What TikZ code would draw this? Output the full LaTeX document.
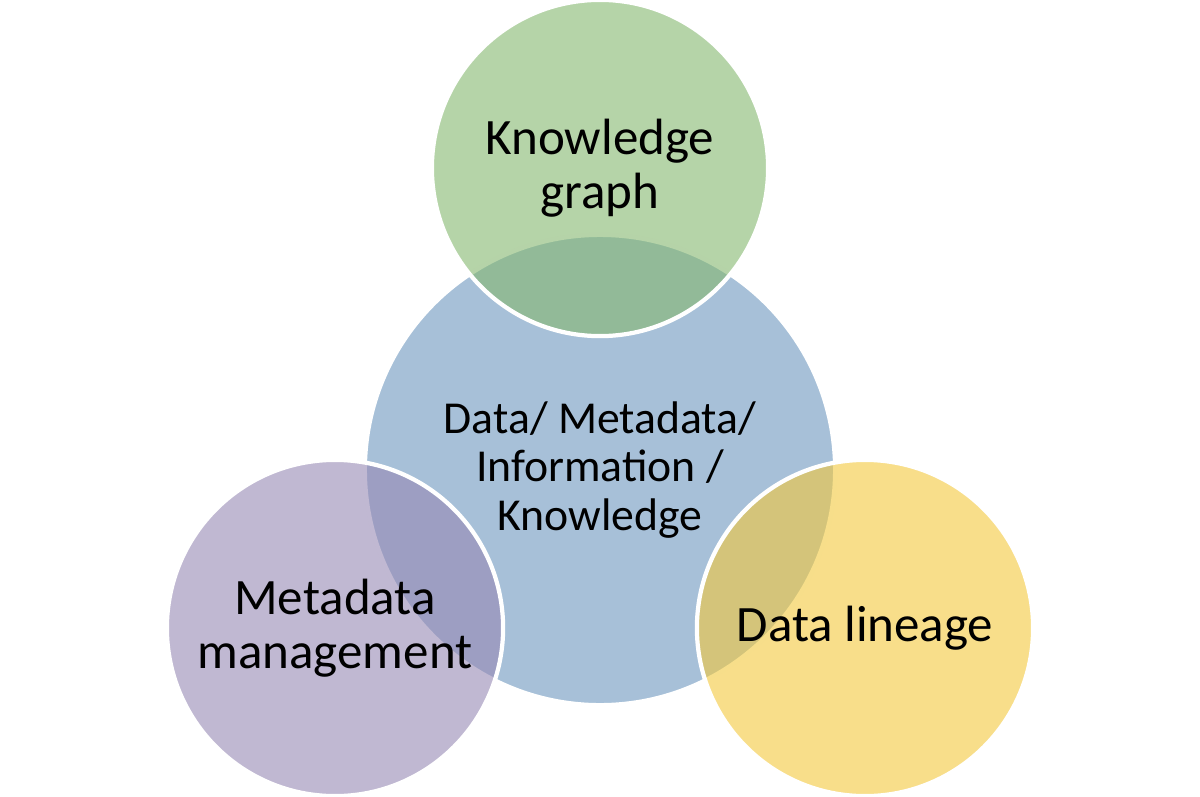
\documentclass[tikz,border=0pt]{standalone}
\usepackage{fontspec}
\setmainfont{Carlito}
\definecolor{kgreen}{HTML}{84B76E}
\definecolor{kblue}{HTML}{6C96BE}
\definecolor{kpurple}{HTML}{9689B4}
\definecolor{kyellow}{HTML}{F3C83C}
\begin{document}
\begin{tikzpicture}[x=0.01cm,y=-0.01cm,
    bubble/.style={circle,draw=white,line width=1.2pt,fill opacity=0.6,text opacity=1,
      align=center,inner sep=0pt},
    big/.style={font=\fontsize{14.5}{15.5}\selectfont},
    mid/.style={font=\fontsize{13}{13.8}\selectfont}]
    \useasboundingbox (0,0) rectangle (1200,797);
    \node[bubble,mid,fill=kblue,minimum size=4.7cm] (core) at (600,470)
        {Data/ Metadata/\\Information /\\Knowledge};
    \node[bubble,big,fill=kgreen,minimum size=3.36cm] (graph) at (600,168)
        {Knowledge\\graph};
    \node[bubble,big,fill=kpurple,minimum size=3.36cm] (meta) at (335,628)
        {Metadata\\management};
    \node[bubble,big,fill=kyellow,minimum size=3.36cm] (lineage) at (865,628)
        {Data lineage};
\end{tikzpicture}
\end{document}
